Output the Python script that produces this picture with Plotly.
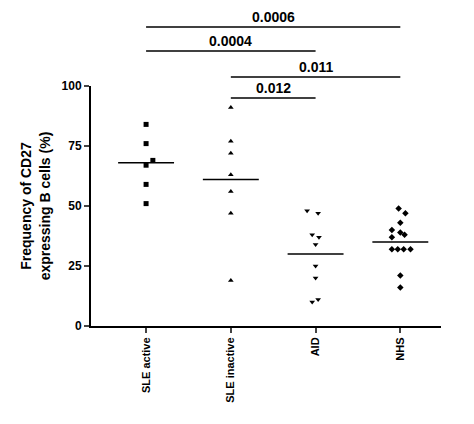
import plotly.graph_objects as go

groups = ["SLE active", "SLE inactive", "AID", "NHS"]
sle_active = [84, 76, 69, 67, 59, 51]
sle_inactive = [91, 77, 72, 63, 56, 47, 19]
aid = [48, 47, 38, 37, 34, 25, 20, 10, 11]
nhs = [49, 47, 43, 40, 38, 39, 37, 32, 32, 32, 32, 21, 16]
medians = [68, 61, 30, 35]
pvals = ["0.0006", "0.0004", "0.011", "0.012"]
pairs = [(0, 3), (0, 2), (1, 3), (1, 2)]

# small horizontal spread for overlapping points (category units)
jitter = {
    0: [0, 0, 0.08, 0, 0, 0],
    1: [0] * 7,
    2: [-0.1, 0.03, -0.04, 0.04, 0, 0, 0, -0.04, 0.03],
    3: [-0.02, 0.06, 0, -0.1, 0.05, 0, -0.1, -0.1, -0.03, 0.04, 0.12, 0, 0],
}
symbols = ["square", "triangle-up", "triangle-down", "diamond"]

fig = go.Figure()
for i, vals in enumerate([sle_active, sle_inactive, aid, nhs]):
    fig.add_trace(go.Scatter(
        x=[i + j for j in jitter[i]], y=vals, mode="markers",
        marker=dict(symbol=symbols[i], size=5, color="black"),
        showlegend=False))
    fig.add_shape(type="line", x0=i - 0.33, x1=i + 0.33, y0=medians[i], y1=medians[i],
                  line=dict(color="black", width=1.5))

# significance brackets
bracket_y = [1.246, 1.146, 1.0375, 0.95]
for (a, b), p, yy in zip(pairs, pvals, bracket_y):
    fig.add_shape(type="line", xref="x", yref="paper", x0=a, x1=b, y0=yy, y1=yy,
                  line=dict(color="black", width=1.5))
    fig.add_annotation(x=(a + b) / 2, y=yy, xref="x", yref="paper", text=p,
                       showarrow=False, yanchor="bottom", yshift=0,
                       font=dict(size=14, color="black", weight="bold"))

fig.update_layout(
    width=474, height=424,
    margin=dict(l=83, r=41, t=78, b=106),
    plot_bgcolor="white", paper_bgcolor="white",
    font=dict(family="Liberation Sans", color="black"),
    xaxis=dict(range=[-0.65, 3.48], tickvals=[0, 1, 2, 3], ticktext=groups,
               tickangle=-90, showline=True, linecolor="black", linewidth=2,
               ticks="outside", ticklen=5, tickwidth=1.5, showgrid=False, zeroline=False,
               tickfont=dict(size=11, family="Liberation Sans", weight="bold")),
    yaxis=dict(range=[0, 100], tickvals=[0, 25, 50, 75, 100],
               showline=True, linecolor="black", linewidth=2,
               ticks="outside", ticklen=5, tickwidth=1.5, showgrid=False, zeroline=False,
               tickfont=dict(size=12, weight="bold"),
               title=dict(text="Frequency of CD27<br>expressing B cells (%)",
                          font=dict(size=14, weight="bold"), standoff=8)),
)

fig.write_html("out.html")
